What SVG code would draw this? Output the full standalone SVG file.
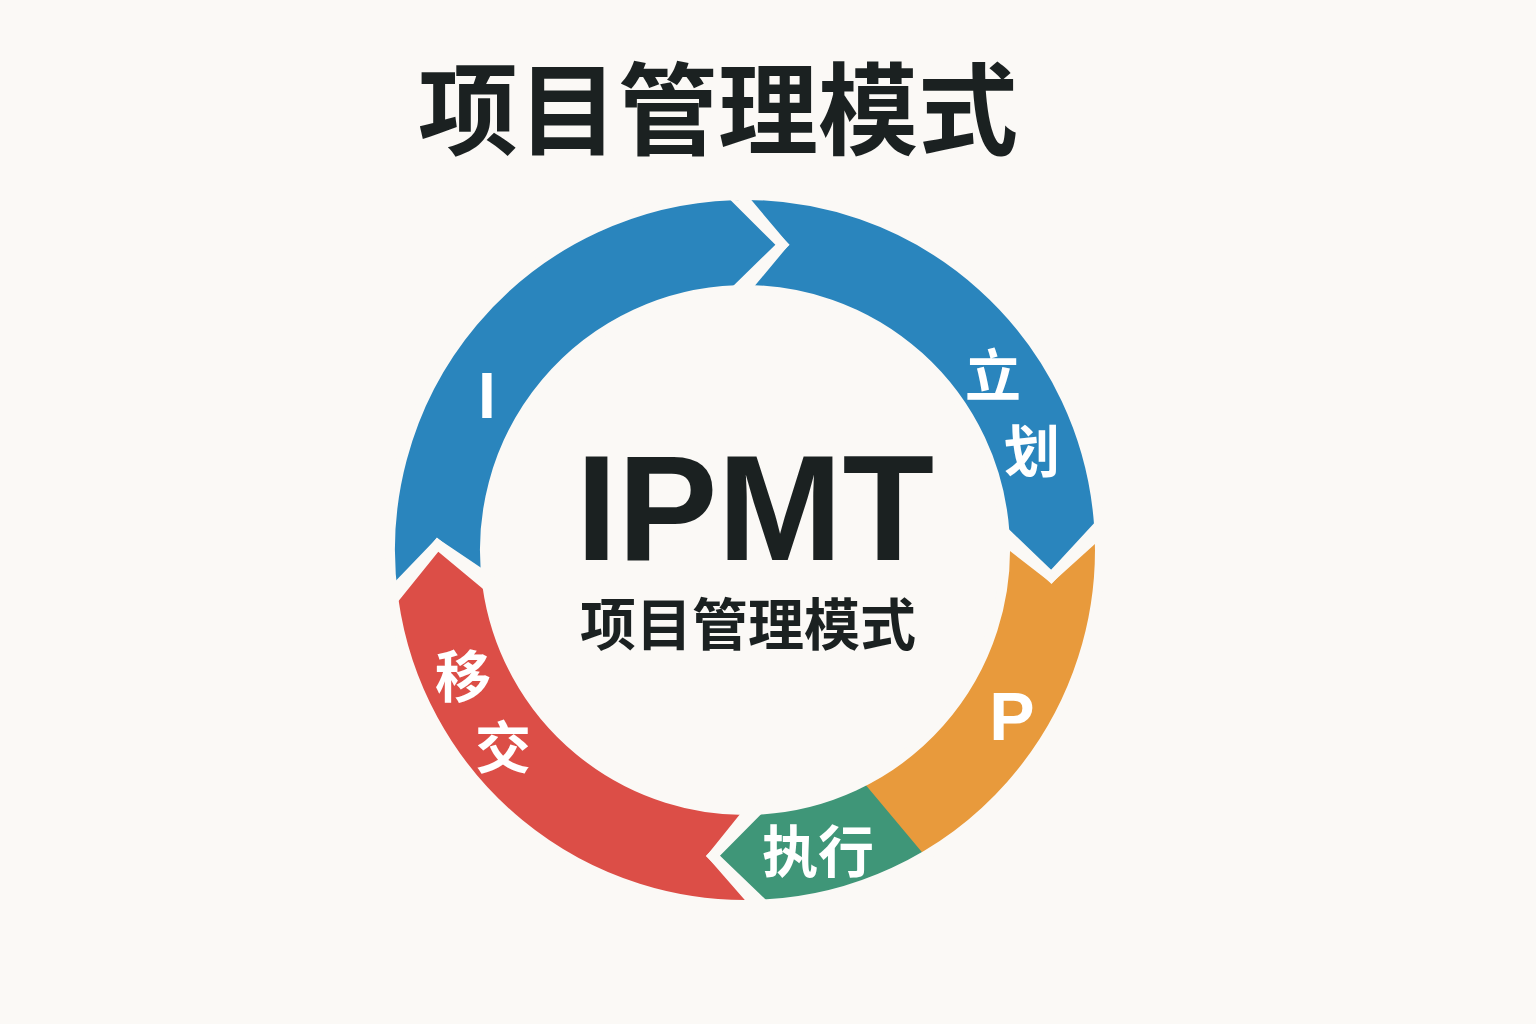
<svg xmlns="http://www.w3.org/2000/svg" width="1536" height="1024" viewBox="0 0 1536 1024">
<style>
.t{font-family:"Noto Sans CJK SC","Liberation Sans",sans-serif;font-weight:bold;text-anchor:middle}
.w{fill:#ffffff}
.gap{fill:none;stroke:#fbf9f6;stroke-width:10;stroke-linejoin:miter}
</style>
<rect width="1536" height="1024" fill="#fbf9f6"/>
<text class="t" x="718" y="147" font-size="100" fill="#1b2121">项目管理模式</text>
<g id="ring">
<path id="segI" fill="#2a85bd" d="M393.4,599.4 A355,355 0 0 1 732.6,195.2 L732.3,185.2 L782.5,244.8 L736.3,300.1 L735.9,290.2 A260,260 0 0 0 487.5,586.2 L437.6,544.6 Z"/>
<path id="segLi" fill="#2a85bd" d="M732.6,195.2 A355,355 0 0 1 1099.1,525.2 L1109.1,524.5 L1051.3,576.8 L994.4,532.5 L1004.4,531.9 A260,260 0 0 0 735.9,290.2 L782.5,244.8 Z"/>
<path id="segP" fill="#e89a3c" d="M1099.1,525.2 A355,355 0 0 1 763.6,904.5 L764.1,914.5 L712.9,855.8 L758.1,799.7 L758.6,809.6 A260,260 0 0 0 1004.4,531.9 L1051.3,576.8 Z"/>
<path id="segExec" fill="#3f9678" d="M925.2,855.9 A355,355 0 0 1 763.6,904.5 L764.1,914.5 L712.9,855.8 L758.1,799.7 L758.6,809.6 A260,260 0 0 0 863,781.7 Z"/>
<path id="segYi" fill="#dc4e47" d="M763.6,904.5 A355,355 0 0 1 393.4,599.4 L383.5,600.8 L437.6,544.6 L497.4,584.8 L487.5,586.2 A260,260 0 0 0 758.6,809.6 L712.9,855.8 Z"/>
</g>
<g id="connectors">
<path class="gap" d="M393.4,599.4 A355,355 0 0 1 732.6,195.2 L732.3,185.2 L782.5,244.8 L736.3,300.1 L735.9,290.2 A260,260 0 0 0 487.5,586.2 L437.6,544.6 Z"/>
<path class="gap" d="M732.6,195.2 A355,355 0 0 1 1099.1,525.2 L1109.1,524.5 L1051.3,576.8 L994.4,532.5 L1004.4,531.9 A260,260 0 0 0 735.9,290.2 L782.5,244.8 Z"/>
<path class="gap" d="M1099.1,525.2 A355,355 0 0 1 763.6,904.5 L764.1,914.5 L712.9,855.8 L758.1,799.7 L758.6,809.6 A260,260 0 0 0 1004.4,531.9 L1051.3,576.8 Z"/>
<path class="gap" d="M763.6,904.5 A355,355 0 0 1 393.4,599.4 L383.5,600.8 L437.6,544.6 L497.4,584.8 L487.5,586.2 A260,260 0 0 0 758.6,809.6 L712.9,855.8 Z"/>
</g>
<g id="labels">
<text class="t w" x="487" y="418" font-size="64" style="font-family:'Liberation Sans',sans-serif">I</text>
<text class="t w" x="993" y="396" font-size="56">立</text>
<text class="t w" x="1032" y="472" font-size="56">划</text>
<text class="t w" x="1012" y="740" font-size="68" style="font-family:'Liberation Sans',sans-serif">P</text>
<text class="t w" x="818" y="872" font-size="56">执行</text>
<text class="t w" x="463" y="697" font-size="56">移</text>
<text class="t w" x="503" y="768" font-size="56">交</text>
</g>
<g id="center">
<text class="t" x="755" y="560" font-size="150" fill="#1b2121" style="font-family:'Liberation Sans',sans-serif">IPMT</text>
<text class="t" x="748" y="645" font-size="56" fill="#1b2121">项目管理模式</text>
</g>
</svg>
